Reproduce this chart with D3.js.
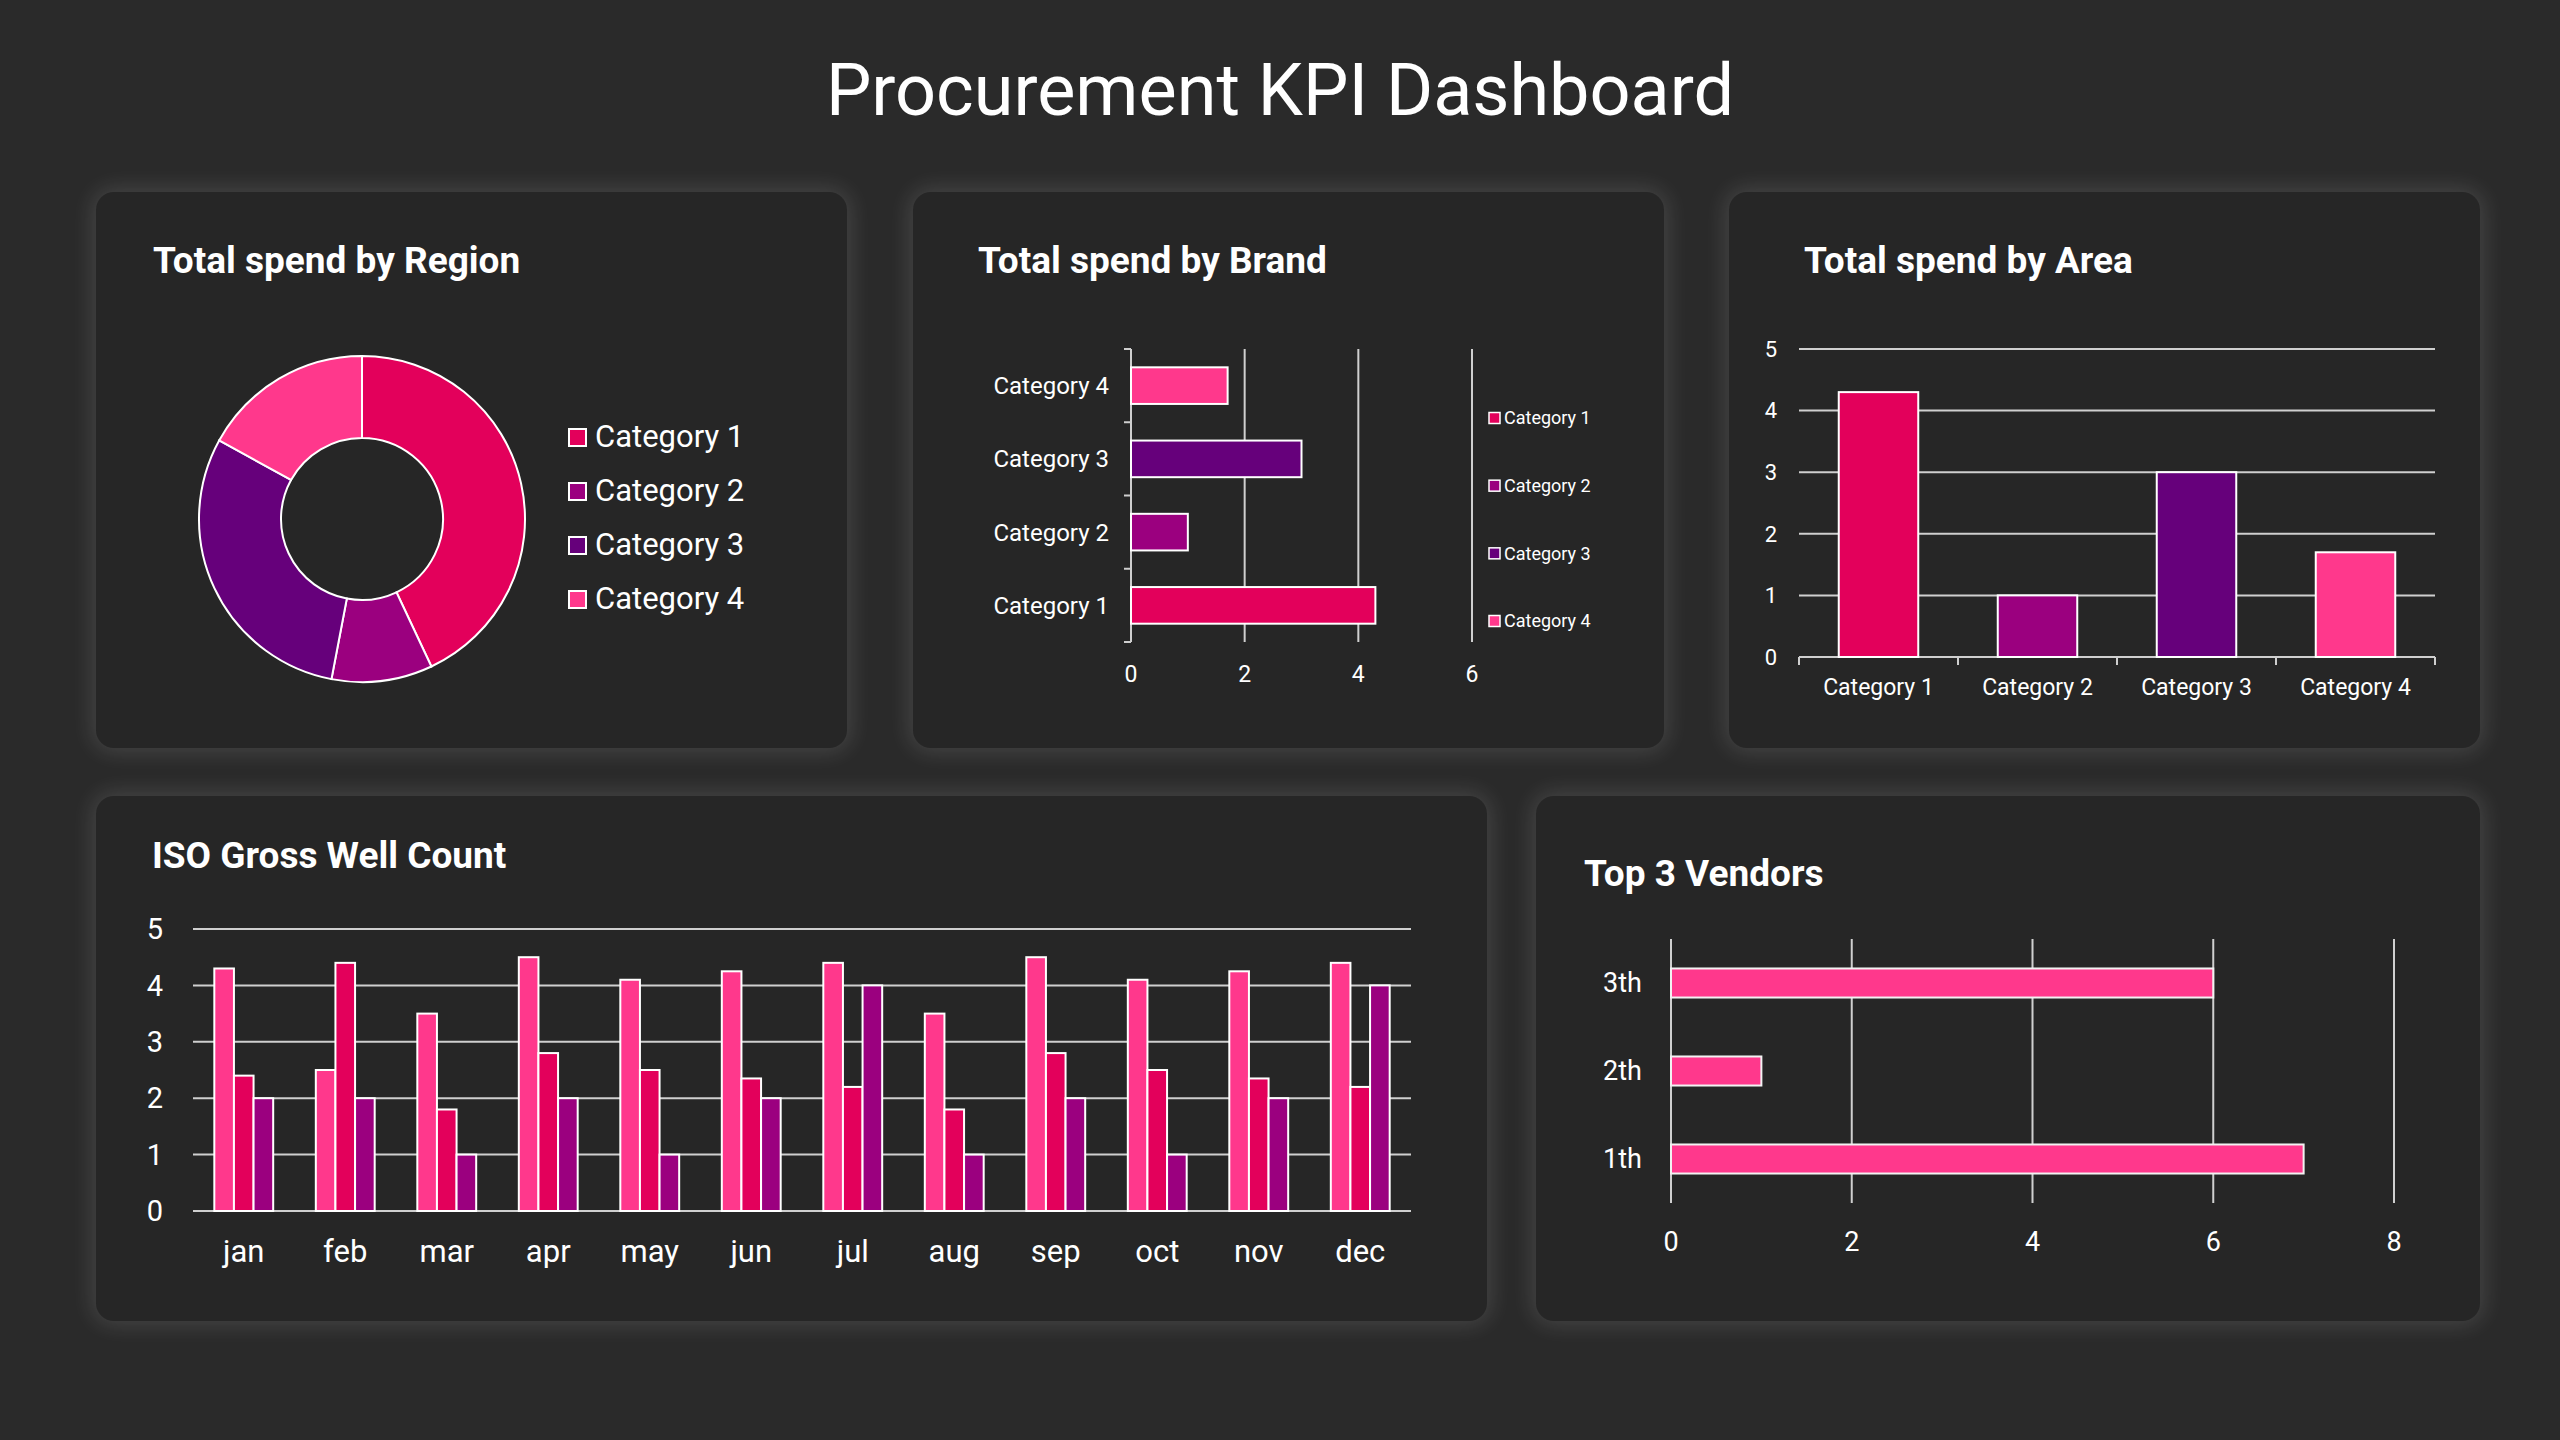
<!DOCTYPE html>
<html>
<head>
<meta charset="utf-8">
<script src="https://cdn.jsdelivr.net/npm/d3@7"></script>
<style>
  html, body { margin: 0; padding: 0; background: #2a2a2a; }
  body { width: 2560px; height: 1440px; position: relative; overflow: hidden; font-family: Roboto, "Noto Sans", sans-serif; }
  .panel { position: absolute; background: #262626; border-radius: 18px; box-shadow: 0 0 22px 4px rgba(255,255,255,0.13); }
  svg { position: absolute; left: 0; top: 0; }
  text { font-family: Roboto, sans-serif; fill: #ffffff; }
</style>
</head>
<body>
<script>
// ---------- data ----------
const regionCategories = ["Category 1", "Category 2", "Category 3", "Category 4"];
const regionValues = [4.3, 1, 3, 1.7];

const brandCategories = ["Category 1", "Category 2", "Category 3", "Category 4"];
const brandValues = [4.3, 1, 3, 1.7];
const brandTicks = [0, 2, 4, 6];

const areaCategories = ["Category 1", "Category 2", "Category 3", "Category 4"];
const areaValues = [4.3, 1, 3, 1.7];
const areaTicks = [0, 1, 2, 3, 4, 5];

const months = ["jan","feb","mar","apr","may","jun","jul","aug","sep","oct","nov","dec"];
const wellSeries1 = [4.3, 2.5, 3.5, 4.5, 4.1, 4.25, 4.4, 3.5, 4.5, 4.1, 4.25, 4.4];
const wellSeries2 = [2.4, 4.4, 1.8, 2.8, 2.5, 2.35, 2.2, 1.8, 2.8, 2.5, 2.35, 2.2];
const wellSeries3 = [2, 2, 1, 2, 1, 2, 4, 1, 2, 1, 2, 4];
const wellTicks = [0, 1, 2, 3, 4, 5];

const vendors = ["3th", "2th", "1th"];
const vendorValues = [6, 1, 7];
const vendorTicks = [0, 2, 4, 6, 8];

const catColors = ["#E3005B", "#9B007F", "#66007B", "#FF388C"];
const wellColors = ["#FF388C", "#E3005B", "#9B007F"];
const gridColor = "#cfcfcf";

// ---------- panels ----------
const panels = [
  {x: 96, y: 192, w: 751, h: 556},
  {x: 913, y: 192, w: 751, h: 556},
  {x: 1729, y: 192, w: 751, h: 556},
  {x: 96, y: 796, w: 1391, h: 525},
  {x: 1536, y: 796, w: 944, h: 525}
];
d3.select("body").selectAll("div.panel").data(panels).enter().append("div")
  .attr("class", "panel")
  .style("left", d => d.x + "px").style("top", d => d.y + "px")
  .style("width", d => d.w + "px").style("height", d => d.h + "px");

const svg = d3.select("body").append("svg").attr("width", 2560).attr("height", 1440);

svg.append("text").attr("x", 1280).attr("y", 115).attr("text-anchor", "middle")
  .style("font-size", "72px").style("font-weight", 400).text("Procurement KPI Dashboard");

const titles = [
  {t: "Total spend by Region", x: 153, y: 273},
  {t: "Total spend by Brand", x: 978, y: 273},
  {t: "Total spend by Area", x: 1804, y: 273},
  {t: "ISO Gross Well Count", x: 152, y: 868},
  {t: "Top 3 Vendors", x: 1584, y: 886}
];
svg.selectAll("text.ptitle").data(titles).enter().append("text").attr("class", "ptitle")
  .attr("x", d => d.x).attr("y", d => d.y)
  .style("font-size", "37px").style("font-weight", 700).text(d => d.t);

// ---------- 1. donut ----------
{
  const g = svg.append("g").attr("transform", "translate(362,519)");
  const pie = d3.pie().sort(null).value(d => d)(regionValues);
  const arc = d3.arc().innerRadius(81).outerRadius(163);
  g.selectAll("path").data(pie).enter().append("path")
    .attr("d", arc).attr("fill", (d, i) => catColors[i])
    .attr("stroke", "#ffffff").attr("stroke-width", 2);
  const lg = svg.append("g");
  const ly = d3.scalePoint().domain(regionCategories).range([429, 591]);
  lg.selectAll("rect").data(regionCategories).enter().append("rect")
    .attr("x", 569).attr("y", d => ly(d)).attr("width", 17).attr("height", 17)
    .attr("fill", (d, i) => catColors[i]).attr("stroke", "#fff").attr("stroke-width", 2);
  lg.selectAll("text").data(regionCategories).enter().append("text")
    .attr("x", 595).attr("y", d => ly(d) + 18).style("font-size", "31px").text(d => d);
}

// ---------- 2. brand horizontal bars ----------
{
  const x = d3.scaleLinear().domain([0, 6]).range([1131, 1472]);
  const y = d3.scaleBand().domain(brandCategories.slice().reverse()).range([349, 642])
    .paddingInner(0.5).paddingOuter(0.25);
  const g = svg.append("g");
  g.selectAll("line.grid").data(brandTicks.slice(1)).enter().append("line")
    .attr("x1", d => x(d)).attr("x2", d => x(d)).attr("y1", 349).attr("y2", 642)
    .attr("stroke", gridColor).attr("stroke-width", 2);
  const bounds = d3.range(brandCategories.length + 1).map(i => 349 + i * y.step());
  g.append("line").attr("x1", x(0)).attr("x2", x(0)).attr("y1", 349).attr("y2", 642)
    .attr("stroke", gridColor).attr("stroke-width", 2);
  g.selectAll("line.tk").data(bounds).enter().append("line")
    .attr("x1", x(0) - 7).attr("x2", x(0)).attr("y1", d => d).attr("y2", d => d)
    .attr("stroke", gridColor).attr("stroke-width", 2);
  g.selectAll("rect").data(brandCategories).enter().append("rect")
    .attr("x", x(0)).attr("y", d => y(d))
    .attr("width", (d, i) => x(brandValues[i]) - x(0)).attr("height", y.bandwidth())
    .attr("fill", (d, i) => catColors[i]).attr("stroke", "#fff").attr("stroke-width", 2);
  g.selectAll("text.yl").data(brandCategories).enter().append("text")
    .attr("x", 1109).attr("y", d => y(d) + y.bandwidth() / 2).attr("dy", "0.35em")
    .attr("text-anchor", "end").style("font-size", "24px").text(d => d);
  g.selectAll("text.xl").data(brandTicks).enter().append("text")
    .attr("x", d => x(d)).attr("y", 682).attr("text-anchor", "middle")
    .style("font-size", "23px").text(d => d);
  const ly = d3.scalePoint().domain(brandCategories).range([418, 621]);
  g.selectAll("rect.lg").data(brandCategories).enter().append("rect")
    .attr("x", 1489).attr("y", d => ly(d) - 5.5).attr("width", 11).attr("height", 11)
    .attr("fill", (d, i) => catColors[i]).attr("stroke", "#fff").attr("stroke-width", 1.5);
  g.selectAll("text.lg").data(brandCategories).enter().append("text")
    .attr("x", 1504).attr("y", d => ly(d)).attr("dy", "0.35em")
    .style("font-size", "18px").text(d => d);
}

// ---------- 3. area vertical bars ----------
{
  const y = d3.scaleLinear().domain([0, 5]).range([657, 349]);
  const x = d3.scaleBand().domain(areaCategories).range([1799, 2435])
    .paddingInner(0.5).paddingOuter(0.25);
  const g = svg.append("g");
  g.selectAll("line.grid").data(areaTicks).enter().append("line")
    .attr("x1", 1799).attr("x2", 2435).attr("y1", d => y(d)).attr("y2", d => y(d))
    .attr("stroke", gridColor).attr("stroke-width", 2);
  const bounds = d3.range(areaCategories.length + 1).map(i => 1799 + i * x.step());
  g.selectAll("line.tk").data(bounds).enter().append("line")
    .attr("x1", d => d).attr("x2", d => d).attr("y1", y(0)).attr("y2", y(0) + 8)
    .attr("stroke", gridColor).attr("stroke-width", 2);
  g.selectAll("rect").data(areaCategories).enter().append("rect")
    .attr("x", d => x(d)).attr("y", (d, i) => y(areaValues[i]))
    .attr("width", x.bandwidth()).attr("height", (d, i) => y(0) - y(areaValues[i]))
    .attr("fill", (d, i) => catColors[i]).attr("stroke", "#fff").attr("stroke-width", 2);
  g.selectAll("text.yl").data(areaTicks).enter().append("text")
    .attr("x", 1777).attr("y", d => y(d)).attr("dy", "0.35em")
    .attr("text-anchor", "end").style("font-size", "22px").text(d => d);
  g.selectAll("text.xl").data(areaCategories).enter().append("text")
    .attr("x", d => x(d) + x.bandwidth() / 2).attr("y", 695).attr("text-anchor", "middle")
    .style("font-size", "23px").text(d => d);
}

// ---------- 4. ISO gross well count ----------
{
  const y = d3.scaleLinear().domain([0, 5]).range([1211, 929]);
  const x = d3.scaleBand().domain(months).range([193, 1411])
    .paddingInner(0.42).paddingOuter(0.21);
  const xs = d3.scaleBand().domain([0, 1, 2]).range([0, x.bandwidth()]);
  const series = [wellSeries1, wellSeries2, wellSeries3];
  const g = svg.append("g");
  g.selectAll("line.grid").data(wellTicks).enter().append("line")
    .attr("x1", 193).attr("x2", 1411).attr("y1", d => y(d)).attr("y2", d => y(d))
    .attr("stroke", gridColor).attr("stroke-width", 2);
  const grp = g.selectAll("g.m").data(months).enter().append("g")
    .attr("transform", d => `translate(${x(d)},0)`);
  grp.selectAll("rect").data((d, mi) => series.map((s, si) => ({si, v: s[mi]}))).enter()
    .append("rect")
    .attr("x", d => xs(d.si)).attr("y", d => y(d.v))
    .attr("width", xs.bandwidth()).attr("height", d => y(0) - y(d.v))
    .attr("fill", d => wellColors[d.si]).attr("stroke", "#fff").attr("stroke-width", 2);
  g.selectAll("text.yl").data(wellTicks).enter().append("text")
    .attr("x", 155).attr("y", d => y(d)).attr("dy", "0.35em")
    .attr("text-anchor", "middle").style("font-size", "29px").text(d => d);
  g.selectAll("text.xl").data(months).enter().append("text")
    .attr("x", d => x(d) + x.bandwidth() / 2).attr("y", 1262).attr("text-anchor", "middle")
    .style("font-size", "31px").text(d => d);
}

// ---------- 5. top 3 vendors ----------
{
  const x = d3.scaleLinear().domain([0, 8]).range([1671, 2394]);
  const y = d3.scaleBand().domain(vendors).range([939, 1203])
    .paddingInner(0.67).paddingOuter(0.335);
  const g = svg.append("g");
  g.selectAll("line.grid").data(vendorTicks).enter().append("line")
    .attr("x1", d => x(d)).attr("x2", d => x(d)).attr("y1", 939).attr("y2", 1203)
    .attr("stroke", gridColor).attr("stroke-width", 2);
  g.selectAll("rect").data(vendors).enter().append("rect")
    .attr("x", x(0)).attr("y", d => y(d))
    .attr("width", (d, i) => x(vendorValues[i]) - x(0)).attr("height", y.bandwidth())
    .attr("fill", "#FF388C").attr("stroke", "#f2f2f2").attr("stroke-width", 2);
  g.selectAll("text.yl").data(vendors).enter().append("text")
    .attr("x", 1642).attr("y", d => y(d) + y.bandwidth() / 2).attr("dy", "0.35em")
    .attr("text-anchor", "end").style("font-size", "27px").text(d => d);
  g.selectAll("text.xl").data(vendorTicks).enter().append("text")
    .attr("x", d => x(d)).attr("y", 1251).attr("text-anchor", "middle")
    .style("font-size", "27px").text(d => d);
}
</script>
</body>
</html>
